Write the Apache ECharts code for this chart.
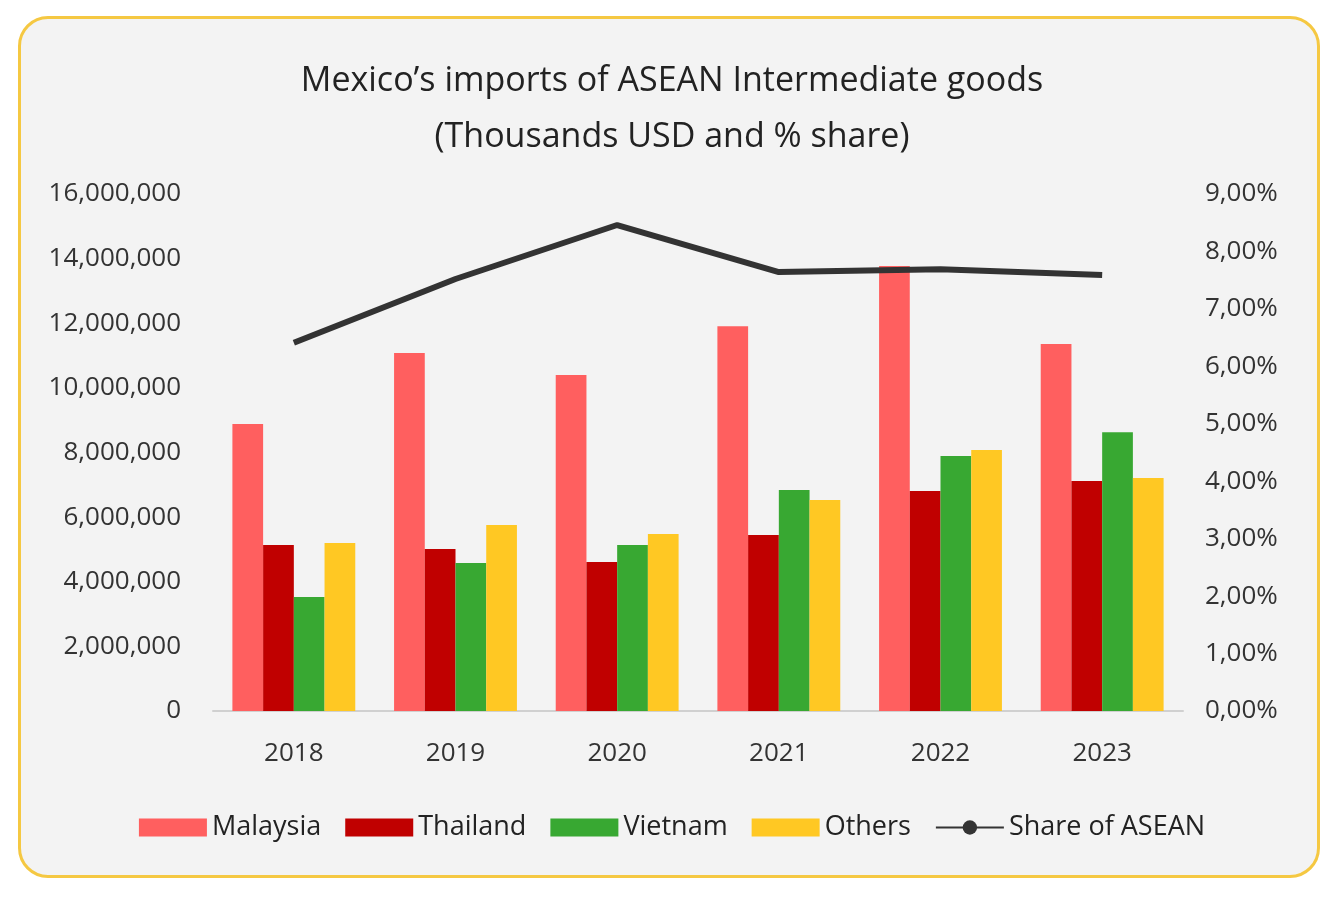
<!DOCTYPE html>
<html><head><meta charset="utf-8">
<script src="https://cdn.jsdelivr.net/npm/echarts@6/dist/echarts.min.js"></script>
<style>html,body{margin:0;padding:0;background:#fff}
#box{position:absolute;left:18px;top:16px;width:1302px;height:862px;border:3px solid #f5c842;border-radius:30px;background:#f3f3f3;box-sizing:border-box}
#c{position:absolute;left:0;top:0;width:1344px;height:906px}</style>
</head><body><div id="box"></div><div id="c"></div>
<script>
const years=['2018','2019','2020','2021','2022','2023'];
const malaysia=[8880000,11080000,10400000,11910000,13770000,11360000];
const thailand=[5140000,5010000,4610000,5450000,6810000,7120000];
const vietnam=[3530000,4580000,5140000,6840000,7890000,8630000];
const others=[5200000,5760000,5480000,6530000,8080000,7210000];
const share=[6.41,7.52,8.46,7.64,7.69,7.59];
const F='Open Sans';
const ch=echarts.init(document.getElementById('c'));
const bar=(n,d,c)=>({name:n,type:'bar',data:d,itemStyle:{color:c},barGap:'0%',barCategoryGap:'24%'});
ch.setOption({
textStyle:{fontFamily:F},
title:{text:'Mexico’s imports of ASEAN Intermediate goods\n(Thousands USD and % share)',left:'center',top:48,textStyle:{fontFamily:F,fontWeight:'normal',fontSize:34,color:'#222',lineHeight:56}},
legend:{bottom:60,itemWidth:68,itemHeight:18,itemGap:24,textStyle:{fontSize:27,color:'#222',fontFamily:F},
data:[{name:'Malaysia',icon:'rect'},{name:'Thailand',icon:'rect'},{name:'Vietnam',icon:'rect'},{name:'Others',icon:'rect'},{name:'Share of ASEAN'}]},
grid:{left:213,right:161,top:194,bottom:195},
xAxis:{type:'category',data:years,axisTick:{show:false},axisLine:{lineStyle:{color:'#d0d0d0',width:2}},axisLabel:{fontSize:26,color:'#333',margin:30}},
yAxis:[{type:'value',min:0,max:16000000,interval:2000000,splitLine:{show:false},axisLabel:{fontSize:26,color:'#333',margin:32}},
{type:'value',min:0,max:9,interval:1,splitLine:{show:false},axisLabel:{fontSize:26,color:'#333',margin:22,formatter:v=>v.toFixed(2).replace('.',',')+'%'}}],
series:[bar('Malaysia',malaysia,'#ff5f5f'),bar('Thailand',thailand,'#c00000'),bar('Vietnam',vietnam,'#38a832'),bar('Others',others,'#ffc823'),
{name:'Share of ASEAN',type:'line',yAxisIndex:1,data:share,symbol:'none',lineStyle:{color:'#333',width:6},itemStyle:{color:'#333'}}]
});
</script></body></html>
